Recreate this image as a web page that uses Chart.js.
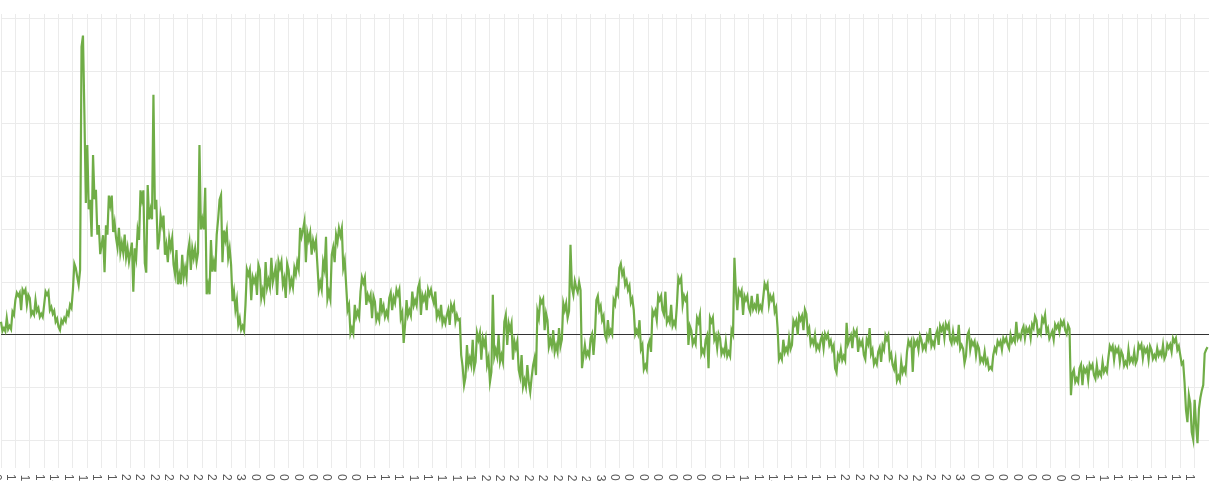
<!DOCTYPE html>
<html>
<head>
<meta charset="utf-8">
<script src="https://cdn.jsdelivr.net/npm/chart.js@4.4.1/dist/chart.umd.min.js"></script>
<style>
  html, body { margin: 0; padding: 0; background: #fff; overflow: hidden; }
  #wrap { width: 1213px; height: 481px; overflow: hidden; }
</style>
</head>
<body>
<div id="wrap"><canvas id="chart" width="1213" height="560"></canvas></div>
<script>
// Series values, one every ~1.44 px (10 per grid column)
const values = [
  2.5, 0.7, 1.3, 0.7, 3.2, 1.1, 1.7, 1.1, 4.4, 3.8,
  6.6, 8.0, 7.4, 8.0, 4.7, 8.6, 8.0, 8.6, 5.7, 7.6,
  7.0, 3.8, 4.4, 3.8, 6.6, 4.5, 5.1, 3.4, 4.0, 3.4,
  5.7, 8.2, 7.6, 8.2, 4.7, 5.3, 4.0, 4.6, 2.5, 3.1,
  1.5, 0.9, 2.8, 2.2, 3.2, 2.6, 4.4, 3.8, 5.7, 5.1,
  8.5, 13.5, 12.7, 11.0, 9.5, 12.3, 54.6, 56.7, 41.7, 25.0,
  36.0, 23.8, 25.6, 18.6, 34.1, 25.7, 27.5, 19.0, 20.8, 15.3,
  17.1, 18.9, 11.9, 20.8, 19.0, 26.4, 24.6, 26.4, 19.5, 21.3,
  18.4, 16.6, 20.3, 15.6, 17.4, 15.6, 19.0, 14.7, 16.5, 13.9,
  15.7, 17.5, 8.2, 16.4, 14.6, 19.8, 18.0, 27.4, 25.6, 27.4,
  13.6, 11.8, 28.4, 21.9, 23.7, 21.9, 45.5, 23.8, 25.6, 16.2,
  18.0, 22.6, 20.8, 22.6, 15.2, 17.0, 13.8, 18.3, 16.5, 18.3,
  13.3, 11.5, 16.1, 9.6, 11.4, 9.6, 15.2, 10.9, 12.7, 10.9,
  15.7, 17.5, 12.3, 16.4, 14.6, 16.4, 13.8, 15.6, 36.0, 20.0,
  21.8, 20.0, 27.9, 7.7, 9.5, 7.7, 18.0, 12.0, 13.8, 12.0,
  19.0, 22.0, 25.6, 26.5, 13.8, 19.8, 18.0, 19.8, 14.6, 16.4,
  13.3, 6.4, 8.2, 4.8, 6.6, 2.0, 3.2, 1.0, 1.7, 0.8,
  5.7, 12.4, 11.4, 12.4, 6.6, 11.0, 10.0, 11.0, 7.6, 13.3,
  12.3, 7.0, 8.5, 7.0, 13.8, 9.0, 10.4, 9.0, 14.6, 10.0,
  11.4, 12.8, 7.6, 13.9, 12.7, 13.9, 9.5, 10.7, 7.0, 13.5,
  12.3, 9.0, 10.4, 9.0, 12.7, 11.5, 13.8, 12.5, 20.3, 18.6,
  19.9, 21.5, 13.8, 19.4, 18.0, 19.4, 15.2, 17.9, 16.5, 17.9,
  13.3, 8.6, 10.0, 8.6, 13.8, 12.4, 18.6, 6.8, 8.2, 6.8,
  15.2, 16.6, 13.8, 19.0, 17.6, 20.2, 18.8, 20.2, 12.7, 14.1,
  9.5, 4.7, 5.7, 0.3, 1.3, 0.3, 5.7, 3.4, 4.4, 3.4,
  8.2, 10.9, 9.9, 10.9, 5.7, 7.6, 6.6, 7.6, 3.2, 7.3,
  6.3, 2.8, 3.8, 2.8, 7.0, 4.5, 5.5, 3.4, 4.4, 3.4,
  7.0, 8.0, 4.7, 7.1, 6.1, 8.6, 7.6, 8.6, 3.2, 4.2,
  -1.5, 2.0, 6.6, 3.7, 4.7, 3.7, 8.2, 5.6, 6.6, 5.6,
  8.9, 9.9, 3.8, 7.6, 6.6, 7.6, 4.7, 8.6, 7.6, 8.6,
  7.0, 6.0, 8.2, 3.4, 4.4, 3.4, 5.7, 2.2, 3.2, 2.2,
  3.8, 4.8, 1.9, 5.7, 4.7, 5.7, 2.5, 3.8, 2.8, 3.0,
  -3.8, -6.0, -9.5, -8.0, -1.9, -5.7, -4.4, -5.7, -0.9, -6.4,
  -5.1, 0.4, -0.9, 0.4, -4.7, -0.6, -1.9, -0.6, -5.7, -4.4,
  -8.9, -7.0, 7.6, -4.1, -2.8, -4.1, 0, -5.1, -3.8, -5.1,
  2.5, 3.8, -1.9, 2.2, 0.9, 2.2, -4.7, -1.2, -2.5, -1.2,
  -6.6, -7.9, -3.8, -9.8, -8.5, -9.8, -5.7, -9.0, -10.8, -8.0,
  -5.7, -4.4, -7.6, 4.5, 3.2, 6.8, 6.1, 6.8, 0.9, 4.1,
  2.8, -2.2, -0.9, -2.2, 0.9, -3.2, -1.9, -3.2, 1.3, -2.2,
  -0.9, 6.0, 4.7, 6.0, 3.2, 4.5, 17.1, 9.0, 7.6, 10.2,
  8.9, 8.1, 10.0, 8.5, -6.3, -4.0, -1.9, -4.0, -3.2, -4.0,
  -0.6, 0.2, -3.8, 0, 6.6, 7.4, 4.7, 5.5, 2.8, 3.6,
  0, -0.8, 2.8, 0.1, 0.9, 0.1, 6.6, 5.8, 8.5, 7.7,
  12.7, 13.5, 11.4, 12.2, 9.5, 10.3, 8.5, 9.3, 6.1, 6.9,
  4.7, 0.1, 0.9, 0.1, 2.8, -2.7, -1.9, -6.5, -5.7, -6.5,
  -1.9, -1.1, -3.2, 4.6, 3.8, 4.6, 2.8, 7.4, 6.6, 7.4,
  4.7, 3.9, 8.2, 2.4, 3.2, 2.4, 5.7, 1.7, 2.5, 1.7,
  5.7, 10.8, 10.0, 10.8, 5.7, 7.4, 6.6, 7.4, -1.9, 1.7,
  0.9, -1.7, -0.9, -1.7, 3.2, 2.4, 3.8, -3.6, -2.8, -3.6,
  -0.9, -0.1, -6.3, 3.3, 2.5, 3.3, -0.9, -0.1, -2.5, 0.2,
  -0.6, -3.6, -2.8, -3.6, -1.3, -4.0, -3.2, -4.0, 0.9, 0.1,
  14.6, 8.4, 4.7, 8.4, 7.6, 8.4, 3.8, 7.4, 6.6, 7.4,
  5.1, 4.3, 7.4, 4.9, 5.7, 4.9, 7.8, 4.7, 5.5, 4.7,
  7.0, 9.7, 8.9, 9.7, 5.7, 7.4, 6.6, 7.4, 4.4, 5.2,
  1.3, -4.6, -3.8, -4.6, -0.9, -3.3, -2.5, -3.3, -0.6, -2.7,
  -1.9, 2.7, 1.9, 2.7, 0, 3.6, 2.8, 3.6, 0.9, 4.8,
  4.0, 0.5, 1.3, -1.7, -0.9, -1.7, 0, -2.7, -1.9, -2.7,
  -0.9, -0.1, -2.5, 0.2, -0.6, 0.2, -1.9, -1.1, -2.8, -2.0,
  -6.3, -7.1, -3.8, -4.6, -2.8, -4.8, -4.0, -4.8, 2.3, -1.7,
  -0.9, -0.1, -2.5, 0.8, 0, 0.8, -3.2, -1.1, -1.9, -1.1,
  -3.8, -4.6, -0.9, -1.7, 1.3, -3.6, -2.8, -5.5, -4.7, -5.5,
  -3.2, -2.4, -5.1, -2.0, -2.8, -0.1, -0.9, -0.1, -4.4, -3.6,
  -5.7, -6.5, -4.7, -8.6, -7.8, -8.6, -5.1, -7.1, -6.3, -7.1,
  -3.2, -1.1, -1.9, -1.1, -7.0, -1.1, -1.9, -1.1, -2.8, -0.1,
  -0.9, -2.7, -1.9, -2.7, -0.2, -1.0, 1.3, -2.1, -1.3, -2.1,
  0, 0.8, -1.9, 1.7, 0.9, 1.7, -0.6, 2.1, 1.3, 2.1,
  -0.9, -1.6, 0.6, -1.3, -0.6, -1.3, 1.9, -2.6, -1.9, -2.6,
  -5.3, -4.0, 0, 0.7, -2.8, -1.2, -1.9, -1.2, -3.8, -1.8,
  -2.5, -5.1, -4.4, -5.1, -3.2, -5.4, -4.7, -6.5, -6.1, -6.5,
  -3.8, -2.5, -3.2, -1.2, -1.9, -1.2, -2.8, -0.6, -1.3, -0.6,
  -1.9, -2.6, 0, -1.3, -0.6, -1.3, 2.5, -0.7, 0, -0.7,
  0.9, 1.6, -0.6, 1.3, 0.6, 1.3, -0.6, 2.0, 1.3, 3.5,
  2.8, 0.2, 0.9, 0.2, 3.2, 2.5, 3.8, 0.6, 1.3, -0.7,
  0, 0.7, -0.9, 2.0, 1.3, 2.0, 0.6, 2.6, 1.9, 2.6,
  0.9, 0.2, 1.9, 1.2, -11.4, -7.3, -6.6, -8.9, -8.2, -8.9,
  -6.3, -5.6, -9.5, -6.3, -7.0, -6.3, -8.5, -5.6, -6.3, -5.6,
  -7.6, -8.3, -5.7, -7.7, -7.0, -7.7, -5.1, -7.0, -6.3, -7.0,
  -4.4, -2.1, -2.8, -2.1, -4.7, -2.5, -3.2, -2.5, -5.1, -3.1,
  -3.8, -5.8, -5.1, -5.8, -2.8, -5.1, -4.4, -5.1, -3.2, -5.4,
  -4.7, -1.8, -2.5, -1.8, -4.4, -2.5, -3.2, -2.5, -4.7, -2.1,
  -2.8, -4.5, -3.8, -4.5, -2.5, -3.9, -3.2, -3.9, -1.9, -4.5,
  -3.8, -1.8, -2.5, -1.8, -3.2, -0.6, -1.3, -0.6, -2.8, -2.1,
  -3.8, -5.5, -5.1, -9.0, -14.2, -16.5, -11.4, -13.0, -18.4, -19.8,
  -12.3, -17.0, -20.5, -14.0, -11.9, -10.5, -9.5, -3.5, -2.8, -2.3,
  -3.8
];

// Date labels under the grid columns (only the first character shows at the bottom edge)
const tickLabels = [
  '09.05.2008', '10.06.2008', '11.07.2008', '12.08.2008', '14.09.2008', '15.10.2008',
  '16.11.2008', '17.12.2008', '19.01.2009', '20.02.2009', '21.03.2009', '22.04.2009',
  '24.05.2009', '25.06.2009', '26.07.2009', '27.08.2009', '28.09.2009', '30.10.2009',
  '01.12.2009', '02.01.2010', '03.02.2010', '05.03.2010', '06.04.2010', '07.05.2010',
  '08.06.2010', '09.07.2010', '10.08.2010', '12.09.2010', '13.10.2010', '14.11.2010',
  '15.12.2010', '16.01.2011', '18.02.2011', '19.03.2011', '20.04.2011', '21.05.2011',
  '22.06.2011', '24.07.2011', '25.08.2011', '26.09.2011', '27.10.2011', '29.11.2011',
  '30.12.2011', '01.02.2012', '02.03.2012', '03.04.2012', '04.05.2012', '06.06.2012',
  '07.07.2012', '08.08.2012', '09.09.2012', '10.10.2012', '12.11.2012', '13.12.2012',
  '14.01.2013', '15.02.2013', '16.03.2013', '18.04.2013', '19.05.2013', '20.06.2013',
  '21.07.2013', '22.08.2013', '23.09.2013', '25.10.2013', '26.11.2013', '27.12.2013',
  '28.01.2014', '30.03.2014', '01.05.2014', '02.06.2014', '03.07.2014', '05.08.2014',
  '06.09.2014', '07.10.2014', '08.11.2014', '09.12.2014', '10.01.2015', '11.02.2015',
  '13.03.2015', '14.04.2015', '15.05.2015', '16.06.2015', '17.07.2015', '19.08.2015'
];

const gridValues = [-20, -10, 0, 10, 20, 30, 40, 50, 60];
const pointsPerTick = 10;

const labels = values.map((v, i) => i % pointsPerTick === 0 ? tickLabels[i / pointsPerTick] : '');

const ctx = document.getElementById('chart').getContext('2d');
new Chart(ctx, {
  type: 'line',
  data: {
    labels: labels,
    datasets: [{
      data: values,
      borderColor: '#70ad47',
      borderWidth: 2.2,
      pointRadius: 0,
      tension: 0,
      fill: false
    }]
  },
  options: {
    responsive: false,
    animation: false,
    devicePixelRatio: 1,
    layout: { padding: { top: 14, right: 4, left: 0, bottom: 0 } },
    plugins: { legend: { display: false }, tooltip: { enabled: false } },
    scales: {
      x: {
        grid: { color: '#ebebeb', drawTicks: false },
        border: { display: false },
        // text turned so it reads top to bottom, first character next to the axis
        ticks: { autoSkip: false, minRotation: -90, maxRotation: -90, padding: 66, labelOffset: -5,
                 color: '#595959', font: { family: 'Liberation Sans, Arial, sans-serif', size: 12 } },
        afterBuildTicks: s => { s.ticks = s.ticks.filter(t => t.value % pointsPerTick === 0); },
        afterFit: s => { s.height = 92; s.paddingLeft = 1; s.paddingRight = 0; }
      },
      y: {
        min: -25.2,
        max: 60.8,
        grid: { color: c => c.tick.value === 0 ? '#333333' : '#ebebeb', drawTicks: false },
        border: { display: false },
        ticks: { display: false },
        afterBuildTicks: s => { s.ticks = gridValues.map(v => ({ value: v })); }
      }
    }
  }
});
</script>
</body>
</html>
